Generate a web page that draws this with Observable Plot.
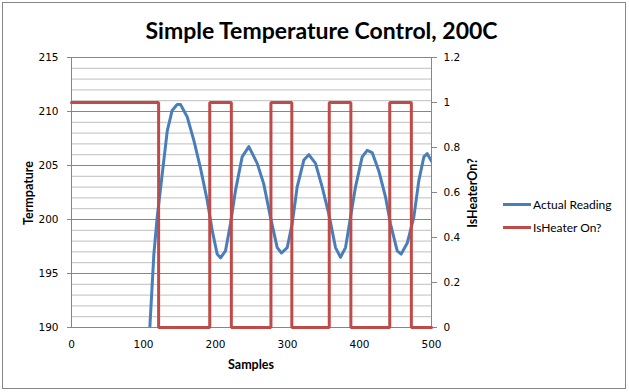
<!DOCTYPE html>
<html>
<head>
<meta charset="utf-8">
<script src="https://cdn.jsdelivr.net/npm/d3@7"></script>
<script src="https://cdn.jsdelivr.net/npm/@observablehq/plot@0.6"></script>
<style>
  html, body { margin: 0; padding: 0; background: #fff; }
  #chart { position: relative; width: 629px; height: 392px; overflow: hidden; }
  #border { position: absolute; left: 2px; top: 2px; width: 622px; height: 385px; border: 1.5px solid #868686; }
  #title { position: absolute; left: 7px; width: 629px; top: 16px; text-align: center;
           font-family: Lato, "Open Sans", sans-serif; font-weight: bold; font-size: 23px; color: #000; }
  .axlabel { position: absolute; font-family: Lato, "Open Sans", sans-serif; font-weight: bold; font-size: 12.5px; color: #000; white-space: nowrap; line-height: 1; }
  #legend { position: absolute; left: 503px; top: 193px; font-family: Lato, "Open Sans", sans-serif; font-size: 12px; color: #000; }
  .item { display: flex; align-items: center; height: 23px; }
  .sw { width: 28px; height: 3px; margin-right: 2px; }
</style>
</head>
<body>
<div id="chart">
  <div id="title">Simple Temperature Control, 200C</div>
  <div id="legend"></div>
</div>
<script>
// ---- data ----
const tempSamples = [107.5, 108.8, 114.4, 119, 126, 133, 139.8, 146.8, 151.4, 160.7, 170, 179, 188.4, 195.4, 202.3, 207, 213.9, 220.8, 227.8, 237, 246.3, 257.9, 267, 276.4, 285.7, 291.7, 299.6, 306.5, 313.4, 322.7, 329.6, 338.9, 348.2, 357.4, 366.7, 373.6, 380.6, 387.5, 394.4, 403.7, 410.7, 417.6, 426.8, 436.1, 443, 452.4, 457.9, 466.2, 475.4, 482.4, 489.4, 494, 500];
const tempValues  = [188.5, 190.0, 196.8, 200.2, 204.2, 208.2, 210.1, 210.65, 210.65, 209.5, 207.3, 204.8, 201.8, 199.0, 196.8, 196.45, 197.1, 199.6, 202.7, 205.8, 206.75, 205.2, 203.3, 200.2, 197.4, 196.9, 197.4, 199.6, 203.0, 205.5, 206.0, 205.2, 203.0, 200.5, 197.4, 196.5, 197.4, 200.2, 203.0, 205.8, 206.4, 206.2, 204.5, 202.1, 199.6, 197.1, 196.8, 197.8, 200.2, 203.6, 205.8, 206.1, 205.4];

const heaterSamples = [0, 121, 192, 222, 277, 306, 358, 388, 442, 472, 500];
const heaterStates  = [1, 0, 1, 0, 1, 0, 1, 0, 1, 0, 0];

const xTicks = [0, 100, 200, 300, 400, 500];
const yTicks = [190, 195, 200, 205, 210, 215];
const yMinorTicks = d3.range(190, 216, 1);
const y2Ticks = [0, 0.2, 0.4, 0.6, 0.8, 1, 1.2];

const seriesNames = ["Actual Reading", "IsHeater On?"];
const seriesColors = ["#4a7ebb", "#be4b48"];

// secondary axis mapping (0..1.2 onto 190..215)
const yDomain = [190, 215];
const y2Domain = [0, 1.2];
const toTemp = v => yDomain[0] + (v - y2Domain[0]) * (yDomain[1] - yDomain[0]) / (y2Domain[1] - y2Domain[0]);
const fromTemp = t => y2Domain[0] + (t - yDomain[0]) * (y2Domain[1] - y2Domain[0]) / (yDomain[1] - yDomain[0]);

const temp = tempSamples.map((s, i) => ({s, t: tempValues[i]}));
const heater = heaterSamples.map((s, i) => ({s, v: heaterStates[i]}));

const tickFont = {fontFamily: "DejaVu Sans, Verdana, sans-serif", fontSize: 10.5};

const plot = Plot.plot({
  width: 629,
  height: 392,
  marginLeft: 71,
  marginRight: 198,
  marginTop: 57,
  marginBottom: 65,
  x: {domain: [0, 500]},
  y: {domain: yDomain},
  style: {background: "transparent", color: "#000"},
  marks: [
    Plot.gridY(yMinorTicks, {stroke: "#bfbfbf", strokeOpacity: 1}),
    Plot.gridY(yTicks, {stroke: "#868686", strokeOpacity: 1}),
    Plot.ruleX([0, 500], {stroke: "#868686"}),
    Plot.axisY(yTicks, {anchor: "left", tickSize: 4, tickPadding: 9, stroke: "#868686", label: null, ...tickFont}),
    Plot.axisY(y2Ticks.map(toTemp), {anchor: "right", tickSize: 5, tickPadding: 7, stroke: "#868686", label: null,
      tickFormat: d => String(+fromTemp(d).toFixed(1)), ...tickFont}),
    Plot.axisX(xTicks, {anchor: "bottom", tickSize: 0, tickPadding: 13, label: null, ...tickFont}),
    Plot.line(temp, {x: "s", y: "t", stroke: seriesColors[0], strokeWidth: 3, clip: true}),
    Plot.line(heater, {x: "s", y: d => toTemp(d.v), curve: "step-after", stroke: seriesColors[1], strokeWidth: 3, strokeLinejoin: "miter"})
  ]
});
plot.style.position = "absolute";
plot.style.left = "0px";
plot.style.top = "0px";
const chart = document.getElementById("chart");
chart.insertBefore(plot, chart.firstChild);

const border = document.createElement("div");
border.id = "border";
chart.appendChild(border);

function addLabel(text, cx, cy, rotate) {
  const el = document.createElement("div");
  el.className = "axlabel";
  el.textContent = text;
  el.style.left = cx + "px";
  el.style.top = cy + "px";
  el.style.transform = "translate(-50%, -50%)" + (rotate ? " rotate(-90deg)" : "");
  chart.appendChild(el);
}
addLabel("Termpature", 29, 193, true);
addLabel("IsHeaterOn?", 473, 193, true);
addLabel("Samples", 251, 365, false);

const legend = document.getElementById("legend");
seriesNames.forEach((n, i) => {
  const it = document.createElement("div");
  it.className = "item";
  const sw = document.createElement("div");
  sw.className = "sw";
  sw.style.background = seriesColors[i];
  const tx = document.createElement("span");
  tx.textContent = n;
  it.appendChild(sw);
  it.appendChild(tx);
  legend.appendChild(it);
});
</script>
</body>
</html>
